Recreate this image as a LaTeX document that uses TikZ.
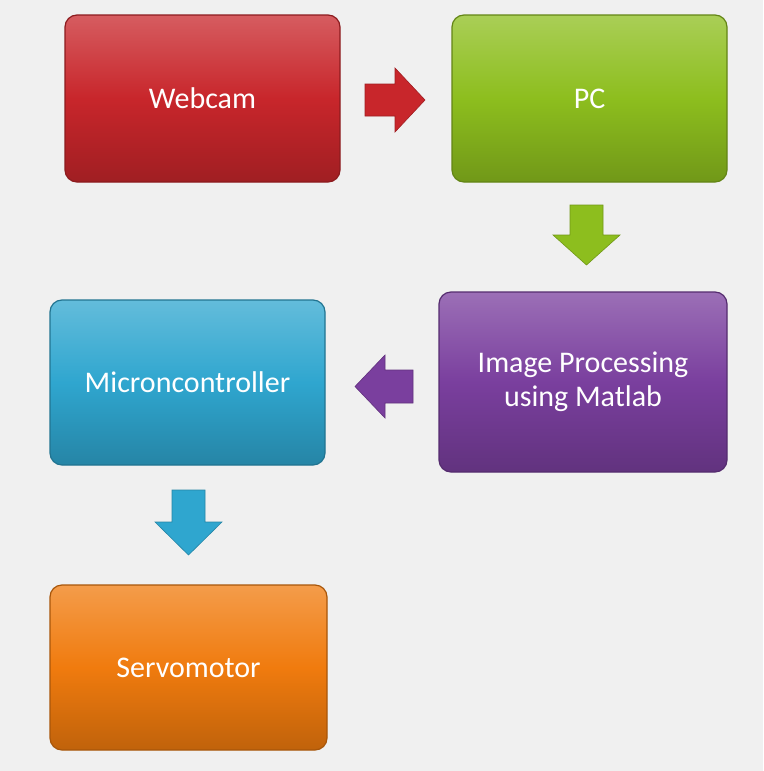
\documentclass[tikz,border=0pt]{standalone}
\usepackage{fontspec}
\setmainfont{Carlito}
\begin{document}
\begin{tikzpicture}[x=1pt,y=-1pt,
  blk/.style={rounded corners=12pt, draw=#1!70!black, line width=1.2pt, top color=#1!75!white, bottom color=#1!80!black, middle color=#1, text=white, font=\fontsize{30}{34}\selectfont, align=center},
  arr/.style={fill=#1, draw=#1!80!black, line width=0.6pt}]
\fill[gray!12] (0,0) rectangle (763,771);
\useasboundingbox (0,0) rectangle (763,771);
\definecolor{cred}{HTML}{C8262B}
\definecolor{cgreen}{HTML}{8DBE1E}
\definecolor{cpurple}{HTML}{7A3F9E}
\definecolor{cblue}{HTML}{2FA6CF}
\definecolor{corange}{HTML}{F07B0E}
\node[blk=cred, minimum width=275pt, minimum height=167pt] (web) at (202.5,98.5) {Webcam};
\node[blk=cgreen, minimum width=275pt, minimum height=167pt] (pc) at (589.5,98.5) {PC};
\node[blk=cpurple, minimum width=288pt, minimum height=180pt] (ip) at (583,382) {Image Processing\\using Matlab};
\node[blk=cblue, minimum width=275pt, minimum height=165pt] (mc) at (187.5,382.5) {Microncontroller};
\node[blk=corange, minimum width=277pt, minimum height=165pt] (sv) at (188.5,667.5) {Servomotor};
\draw[arr=cred] (365,84)--(395,84)--(395,68)--(425,100)--(395,132)--(395,116)--(365,116)--cycle;
\draw[arr=cgreen] (570,205)--(603,205)--(603,235)--(620,235)--(586.5,265)--(553,235)--(570,235)--cycle;
\draw[arr=cpurple] (413,370)--(385,370)--(385,355)--(355,386.5)--(385,418)--(385,403)--(413,403)--cycle;
\draw[arr=cblue] (172,490)--(205,490)--(205,522)--(222,522)--(188.5,555)--(155,522)--(172,522)--cycle;
\end{tikzpicture}
\end{document}
